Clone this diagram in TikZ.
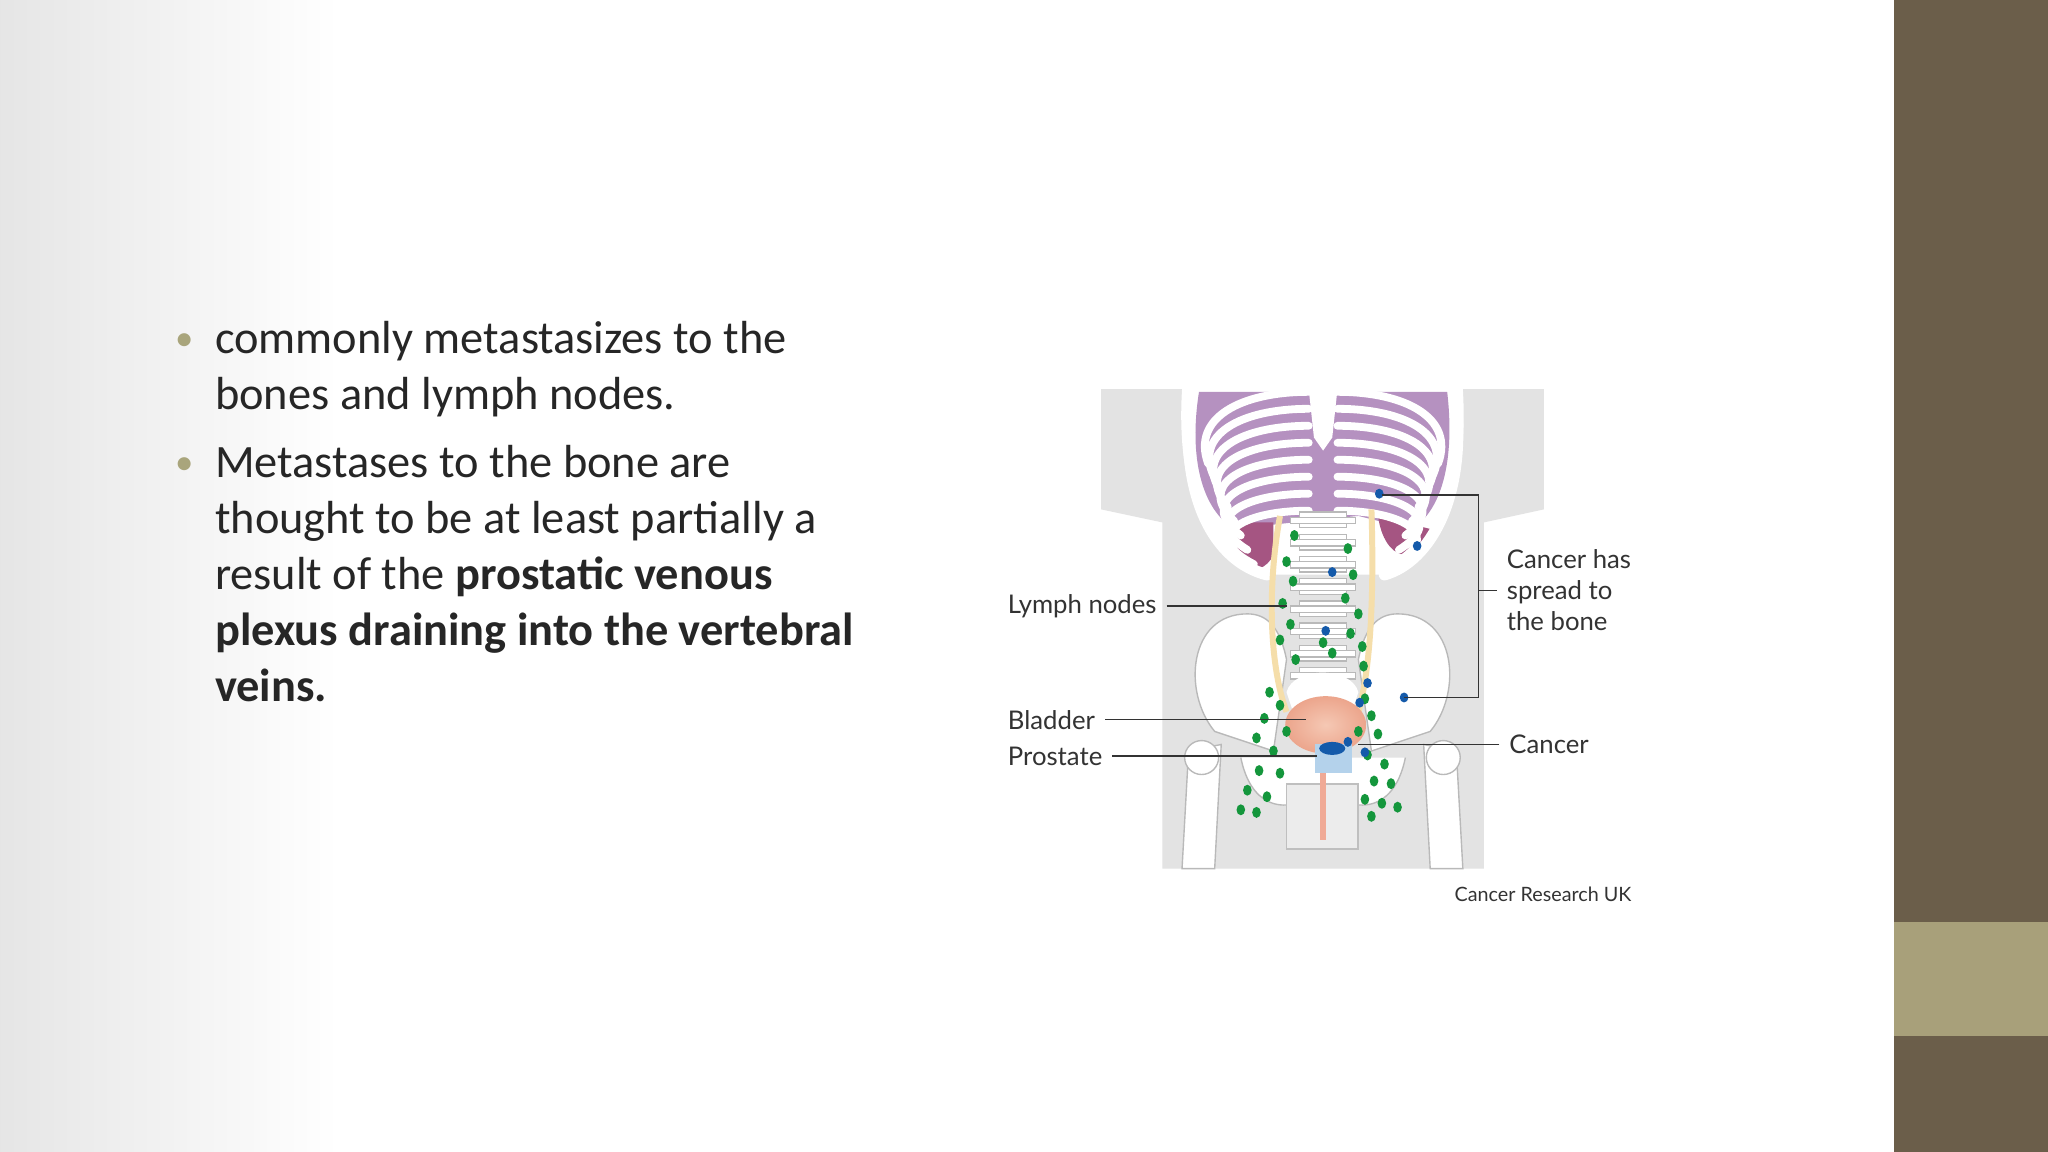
\documentclass[tikz,border=0pt]{standalone}
\usepackage{fontspec}
\setmainfont{Carlito}
\newfontfamily\labfont{Lato}
\definecolor{side}{RGB}{107,94,74}
\definecolor{sidel}{RGB}{168,160,122}
\definecolor{bul}{RGB}{169,165,124}
\definecolor{liver}{RGB}{181,145,192}
\definecolor{kid}{RGB}{165,85,130}
\definecolor{ure}{RGB}{245,222,170}
\definecolor{urt}{RGB}{240,170,150}
\definecolor{bin}{RGB}{245,200,180}
\definecolor{bout}{RGB}{236,165,140}
\definecolor{gnode}{RGB}{20,150,60}
\definecolor{bnode}{RGB}{20,90,170}
\definecolor{prost}{RGB}{180,210,235}
\begin{document}
\begin{tikzpicture}[x=0.01cm,y=-0.01cm,
  lab/.style={font=\labfont\fontsize{5.6}{6.8}\selectfont,text=black!80,inner sep=0pt},
  lead/.style={draw=black!80,line width=0.35pt},
  gdot/.style={fill=gnode,draw=none},
  bdot/.style={fill=bnode,draw=none},
  rib/.style={white,line width=1.7pt,line cap=round},
  bone/.style={fill=white,draw=gray!55,line width=0.3pt}]
\useasboundingbox (0,0) rectangle (1568,882);
\fill[white] (0,0) rectangle (1568,882);
\shade[left color=gray!20,right color=white] (0,0) rectangle (260,882);
% sidebar
\fill[side] (1450,0) rectangle (1568,882);
\fill[sidel] (1450,706) rectangle (1568,793);
% bullets
\node[text=bul,font=\fontsize{8}{12}\selectfont] (b1) at (141,262) {•};
\node[text=bul,font=\fontsize{8}{12}\selectfont] (b2) at (141,357) {•};
\node[anchor=north west,inner sep=0pt,text=black!85,font=\fontsize{10.1}{12.2}\selectfont,align=left] (t1) at (164,245) {commonly metastasizes to the\\bones and lymph nodes.};
\node[anchor=north west,inner sep=0pt,text=black!85,font=\fontsize{10.1}{12.2}\selectfont,align=left] (t2) at (164,340) {Metastases to the bone are\\thought to be at least partially a\\result of the \textbf{prostatic venous}\\\textbf{plexus draining into the vertebral}\\\textbf{veins.}};
% torso
\fill[gray!22] (843,298) -- (1182,298) -- (1182,390) -- (1136,400) -- (1136,665) -- (890,665) -- (890,400) -- (843,390) -- cycle;
% ribcage base
\fill[white] (905,298) -- (1120,298) .. controls (1125,380) and (1100,430) .. (1060,440) -- (970,440) .. controls (925,430) and (900,380) .. (905,298) -- cycle;
% liver / organs
\fill[liver] (918,300) -- (1108,300) .. controls (1115,360) and (1100,395) .. (1080,405) -- (1040,395) -- (990,400) -- (945,405) .. controls (920,390) and (910,350) .. (918,300) -- cycle;
\fill[kid] (940,400) .. controls (935,440) and (965,445) .. (975,425) -- (975,400) -- cycle;
\fill[kid] (1055,395) .. controls (1060,430) and (1085,435) .. (1095,405) -- cycle;
% ribs
\foreach \i in {0,...,7}{
  \draw[rib] (1002,{300+\i*13}) .. controls ({950},{300+\i*13}) and ({912+\i},{320+\i*13}) .. ({925+\i*5},{355+\i*11});
  \draw[rib] (1024,{300+\i*13}) .. controls ({1076},{300+\i*13}) and ({1114-\i},{320+\i*13}) .. ({1101-\i*5},{355+\i*11});
}
\draw[white,line width=2.5pt,line cap=round] (912,300) .. controls (902,380) and (930,430) .. (970,440);
\draw[white,line width=2.5pt,line cap=round] (1114,300) .. controls (1124,380) and (1095,430) .. (1060,440);
\fill[white] (1002,298) -- (1024,298) -- (1020,335) -- (1013,345) -- (1006,335) -- cycle;
% pelvis wings
\draw[bone] (955,470) .. controls (910,470) and (905,530) .. (930,560) -- (975,575) -- (985,505) .. controls (980,480) and (970,470) .. (955,470) -- cycle;
\draw[bone] (1070,470) .. controls (1115,470) and (1120,530) .. (1095,560) -- (1050,575) -- (1040,505) .. controls (1045,480) and (1055,470) .. (1070,470) -- cycle;
% femurs
\draw[bone] (910,575) -- (935,570) -- (930,665) -- (905,665) -- cycle;
\draw[bone] (1090,570) -- (1115,575) -- (1120,665) -- (1095,665) -- cycle;
\draw[bone] (920,580) circle (13);
\draw[bone] (1105,580) circle (13);
\draw[bone] (950,580) .. controls (960,630) and (1000,620) .. (1013,600) .. controls (1026,620) and (1066,630) .. (1076,580);
\draw[gray!50,fill=gray!15] (985,600) rectangle (1040,650);
% ureters
\draw[ure,line width=1.3pt] (980,395) .. controls (970,450) and (972,510) .. (985,545);
\draw[ure,line width=1.3pt] (1050,390) .. controls (1052,450) and (1050,510) .. (1040,545);
% spine
\foreach \j in {0,...,7}{
  \draw[bone] (995,{392+\j*17}) rectangle (1031,{404+\j*17});
  \draw[bone] (988,{396+\j*17}) rectangle (1038,{401+\j*17});
}
\fill[white] (985,530) .. controls (990,510) and (1035,510) .. (1040,530) -- (1030,560) -- (995,560) -- cycle;
% urethra
\draw[urt,line width=1.2pt] (1013,590) -- (1013,643);
% bladder
\shade[inner color=bin,outer color=bout] (1015,555) ellipse (31 and 22);
\node[coordinate] (bl) at (1000,551) {};
% prostate
\fill[prost] (1007,570) rectangle (1035,592);
\fill[bnode] (1020,573) ellipse (10 and 5);
\node[coordinate] (pr) at (1008,579) {};
\node[coordinate] (ca) at (1040,570) {};
% green nodes
\foreach \x/\y in {991/410, 985/430, 990/445, 982/462, 988/478, 980/490, 1032/420, 1036/440, 1030/458, 1040/470, 1034/485, 1043/495, 992/505, 1020/500, 1013/492, 1044/510, 972/530, 980/540, 968/550, 985/560, 962/565, 975/575, 964/590, 980/592, 955/605, 970/610, 950/620, 962/622, 1045/535, 1050/548, 1040/560, 1055/562, 1047/578, 1060/585, 1052/598, 1065/600, 1045/612, 1058/615, 1070/618, 1050/625}
  \fill[gdot] (\x,\y) ellipse (3.3 and 4.2);
% blue nodes
\foreach \x/\y in {1056/378, 1085/418, 1020/438, 1015/483, 1047/523, 1041/538, 1075/534, 1032/568, 1045/576}
  \fill[bdot] (\x,\y) ellipse (3.3 and 3.8);
\node[coordinate] (bo1) at (1058,379) {};
\node[coordinate] (bo2) at (1075,534) {};
\node[coordinate] (ln) at (985,464) {};
% labels
\node[lab,anchor=west] (Lln) at (771,464) {Lymph nodes};
\node[lab,anchor=west] (Lbl) at (771,551) {Bladder};
\node[lab,anchor=west] (Lpr) at (771,579) {Prostate};
\node[lab,anchor=west] (Lca) at (1155,570) {Cancer};
\node[lab,anchor=west,align=left] (Lbo) at (1153,452) {Cancer has\\spread to\\the bone};
\node[lab,anchor=west,font=\labfont\fontsize{4.3}{5}\selectfont] (cr) at (1113,685) {Cancer Research UK};
\draw[lead] ([xshift=2]Lln.east) -- (ln);
\draw[lead] ([xshift=2]Lbl.east) -- (bl);
\draw[lead] ([xshift=2]Lpr.east) -- (pr);
\draw[lead] ([xshift=-2]Lca.west) -- (ca);
\draw[lead] (bo1) -| (1132,534) -- (bo2);
\draw[lead] (1132,452) -- ([xshift=-2]Lbo.west);
\end{tikzpicture}
\end{document}
